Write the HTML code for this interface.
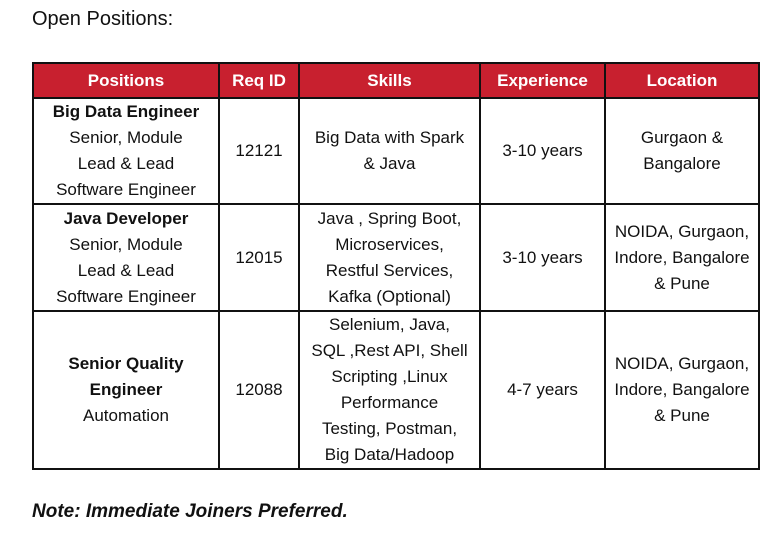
<!DOCTYPE html>
<html><head><meta charset="utf-8"><style>
body{margin:0;width:783px;height:534px;background:#fff;font-family:"Liberation Sans",sans-serif;color:#111;position:relative;overflow:hidden}
.t{position:absolute}
table{position:absolute;left:32px;top:62px;border-collapse:collapse;font-size:17px;line-height:26px}
td,th{border:2px solid #111;text-align:center;padding:0 1px;vertical-align:middle}
th{background:#c8202f;color:#fff;height:33px;font-size:17px}
b{font-weight:bold}
</style></head><body>
<div class="t" style="left:32px;top:8px;font-size:20px">Open Positions:</div>
<table>
<colgroup><col style="width:186px"><col style="width:80px"><col style="width:181px"><col style="width:125px"><col style="width:154px"></colgroup>
<tr><th>Positions</th><th>Req ID</th><th>Skills</th><th>Experience</th><th>Location</th></tr>
<tr style="height:106px"><td><b>Big Data Engineer</b><br>Senior, Module<br>Lead &amp; Lead<br>Software Engineer</td><td>12121</td><td>Big Data with Spark<br>&amp; Java</td><td>3-10 years</td><td>Gurgaon &amp;<br>Bangalore</td></tr>
<tr style="height:107px"><td><b>Java Developer</b><br>Senior, Module<br>Lead &amp; Lead<br>Software Engineer</td><td>12015</td><td>Java , Spring Boot,<br>Microservices,<br>Restful Services,<br>Kafka (Optional)</td><td>3-10 years</td><td>NOIDA, Gurgaon,<br>Indore, Bangalore<br>&amp; Pune</td></tr>
<tr style="height:154px"><td><b>Senior Quality<br>Engineer</b><br>Automation</td><td>12088</td><td>Selenium, Java,<br>SQL ,Rest API, Shell<br>Scripting ,Linux<br>Performance<br>Testing, Postman,<br>Big Data/Hadoop</td><td>4-7 years</td><td>NOIDA, Gurgaon,<br>Indore, Bangalore<br>&amp; Pune</td></tr>
</table>
<div class="t" style="left:32px;top:501px;font-weight:bold;font-style:italic;font-size:19px">Note: Immediate Joiners Preferred.</div>
</body></html>
